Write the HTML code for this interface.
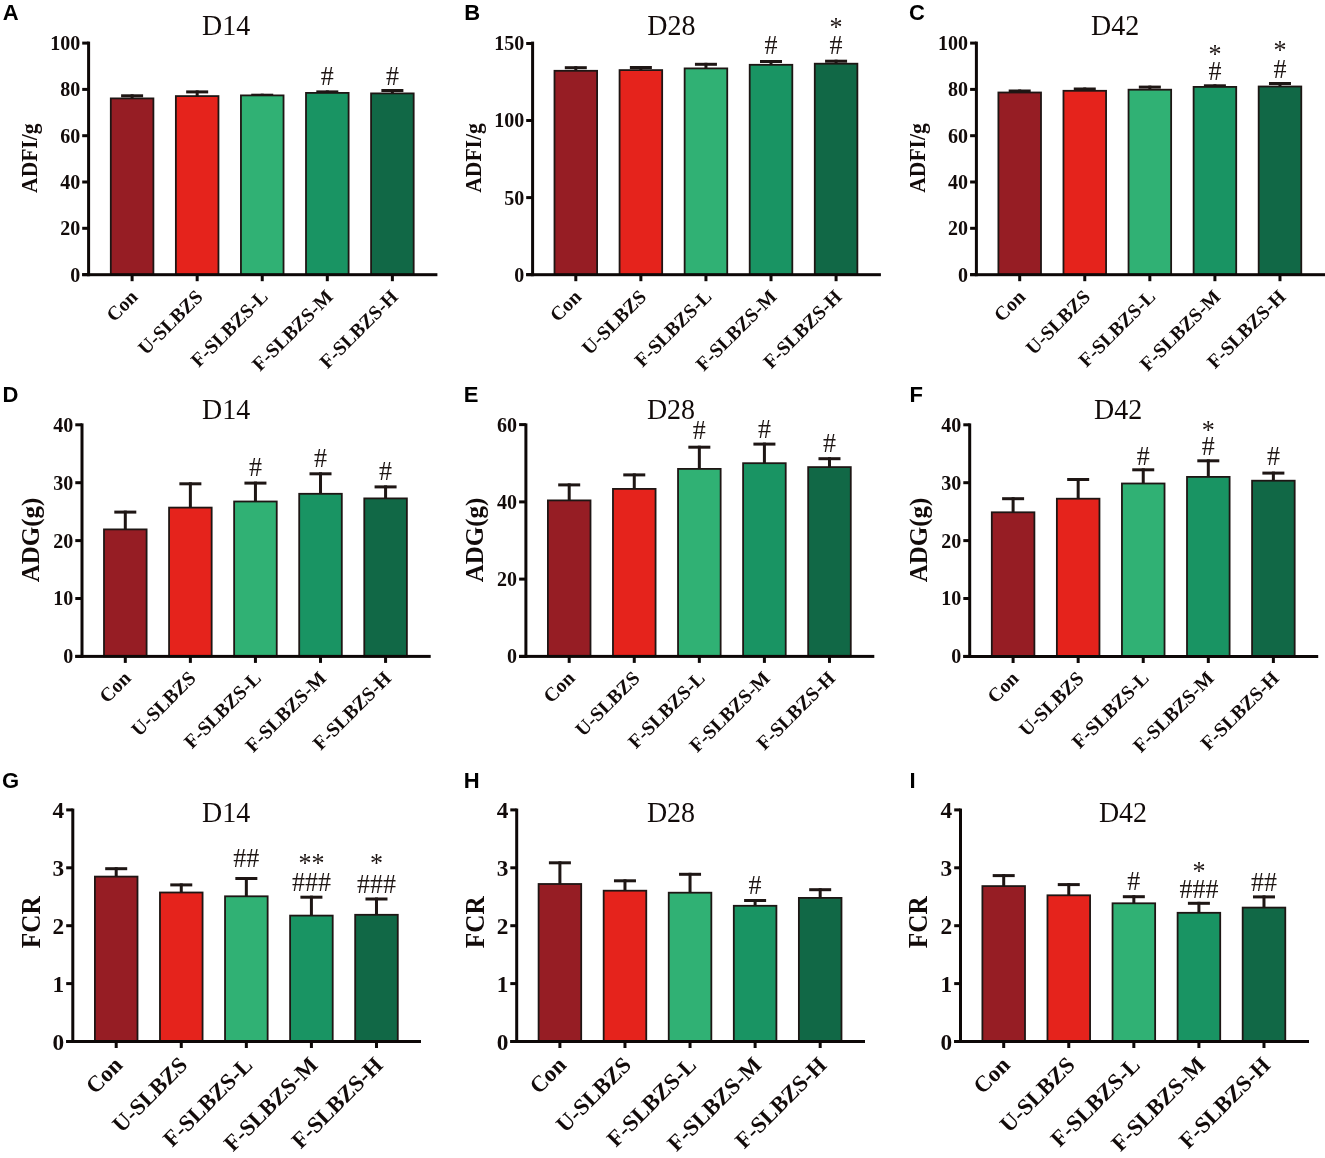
<!DOCTYPE html>
<html><head><meta charset="utf-8"><title>Figure</title>
<style>
html,body{margin:0;padding:0;background:#fff;}
svg{display:block;will-change:transform;}
.lt{font-family:"Liberation Sans",sans-serif;font-weight:bold;font-size:22px;fill:#000;}
.tt{font-family:"Liberation Serif",serif;font-size:28px;fill:#120b0a;text-anchor:middle;}
.yl{font-family:"Liberation Serif",serif;font-weight:bold;fill:#120b0a;text-anchor:middle;}
.tk{font-family:"Liberation Serif",serif;font-weight:bold;fill:#120b0a;text-anchor:end;}
.cat{font-family:"Liberation Serif",serif;font-weight:bold;fill:#120b0a;text-anchor:end;}
.an{font-family:"Liberation Serif",serif;font-size:26px;fill:#1e1614;text-anchor:middle;}
</style></head>
<body>
<svg width="1325" height="1158" viewBox="0 0 1325 1158">
<rect width="1325" height="1158" fill="#fff"/>
<text x="2.7" y="19.6" class="lt">A</text>
<text transform="translate(226.2,35) scale(1,1.05)" class="tt">D14</text>
<text transform="translate(36.8,158.2) rotate(-90) scale(0.98,1.05)" class="yl" style="font-size:22px">ADFI/g</text>
<rect x="130.6" y="94.3" width="3" height="4.2" fill="#1e1614"/>
<rect x="121.1" y="94.3" width="22" height="3" fill="#1e1614"/>
<rect x="110.8" y="98.4" width="42.6" height="176.3" fill="#961d24" stroke="#1e1614" stroke-width="1.8"/>
<rect x="130.6" y="274.7" width="3" height="6.5" fill="#0d0807"/>
<text transform="translate(138.8,298) rotate(-45)" class="cat" style="font-size:19.6px">Con</text>
<rect x="195.67" y="90.4" width="3" height="5.8" fill="#1e1614"/>
<rect x="186.17" y="90.4" width="22" height="3" fill="#1e1614"/>
<rect x="175.87" y="96.1" width="42.6" height="178.6" fill="#e5231c" stroke="#1e1614" stroke-width="1.8"/>
<rect x="195.67" y="274.7" width="3" height="6.5" fill="#0d0807"/>
<text transform="translate(203.87,298) rotate(-45)" class="cat" style="font-size:19.6px">U-SLBZS</text>
<rect x="260.74" y="93.7" width="3" height="1.8" fill="#1e1614"/>
<rect x="251.24" y="93.7" width="22" height="3" fill="#1e1614"/>
<rect x="240.94" y="95.4" width="42.6" height="179.3" fill="#30b174" stroke="#1e1614" stroke-width="1.8"/>
<rect x="260.74" y="274.7" width="3" height="6.5" fill="#0d0807"/>
<text transform="translate(268.94,298) rotate(-45)" class="cat" style="font-size:19.6px">F-SLBZS-L</text>
<rect x="325.81" y="90.4" width="3" height="2.6" fill="#1e1614"/>
<rect x="316.31" y="90.4" width="22" height="3" fill="#1e1614"/>
<rect x="306.01" y="92.9" width="42.6" height="181.8" fill="#199463" stroke="#1e1614" stroke-width="1.8"/>
<rect x="325.81" y="274.7" width="3" height="6.5" fill="#0d0807"/>
<text transform="translate(334.01,298) rotate(-45)" class="cat" style="font-size:19.6px">F-SLBZS-M</text>
<rect x="390.88" y="89" width="3" height="4.5" fill="#1e1614"/>
<rect x="381.38" y="89" width="22" height="3" fill="#1e1614"/>
<rect x="371.08" y="93.4" width="42.6" height="181.3" fill="#116846" stroke="#1e1614" stroke-width="1.8"/>
<rect x="390.88" y="274.7" width="3" height="6.5" fill="#0d0807"/>
<text transform="translate(399.08,298) rotate(-45)" class="cat" style="font-size:19.6px">F-SLBZS-H</text>
<text transform="translate(327.31,84.6) scale(1,1.06)" class="an">#</text>
<text transform="translate(392.38,84.6) scale(1,1.06)" class="an">#</text>
<rect x="87.1" y="41.6" width="3.0" height="234.6" fill="#0d0807"/>
<rect x="82.2" y="273.2" width="355.2" height="3.0" fill="#0d0807"/>
<rect x="82.2" y="41.6" width="6.4" height="3" fill="#0d0807"/>
<text x="80.2" y="50" class="tk" style="font-size:20px">100</text>
<rect x="82.2" y="87.9" width="6.4" height="3" fill="#0d0807"/>
<text x="80.2" y="96.3" class="tk" style="font-size:20px">80</text>
<rect x="82.2" y="134.2" width="6.4" height="3" fill="#0d0807"/>
<text x="80.2" y="142.6" class="tk" style="font-size:20px">60</text>
<rect x="82.2" y="180.5" width="6.4" height="3" fill="#0d0807"/>
<text x="80.2" y="188.9" class="tk" style="font-size:20px">40</text>
<rect x="82.2" y="226.8" width="6.4" height="3" fill="#0d0807"/>
<text x="80.2" y="235.2" class="tk" style="font-size:20px">20</text>
<rect x="82.2" y="273.1" width="6.4" height="3" fill="#0d0807"/>
<text x="80.2" y="281.5" class="tk" style="font-size:20px">0</text>
<text x="464.3" y="19.5" class="lt">B</text>
<text transform="translate(671.3,35.4) scale(1,1.05)" class="tt">D28</text>
<text transform="translate(480.7,158) rotate(-90) scale(0.98,1.05)" class="yl" style="font-size:22px">ADFI/g</text>
<rect x="574.3" y="66.2" width="3" height="4.7" fill="#1e1614"/>
<rect x="564.8" y="66.2" width="22" height="3" fill="#1e1614"/>
<rect x="554.5" y="70.8" width="42.6" height="203.9" fill="#961d24" stroke="#1e1614" stroke-width="1.8"/>
<rect x="574.3" y="274.7" width="3" height="6.5" fill="#0d0807"/>
<text transform="translate(582.5,298) rotate(-45)" class="cat" style="font-size:19.6px">Con</text>
<rect x="639.37" y="66" width="3" height="4.2" fill="#1e1614"/>
<rect x="629.87" y="66" width="22" height="3" fill="#1e1614"/>
<rect x="619.57" y="70.1" width="42.6" height="204.6" fill="#e5231c" stroke="#1e1614" stroke-width="1.8"/>
<rect x="639.37" y="274.7" width="3" height="6.5" fill="#0d0807"/>
<text transform="translate(647.57,298) rotate(-45)" class="cat" style="font-size:19.6px">U-SLBZS</text>
<rect x="704.44" y="62.8" width="3" height="5.7" fill="#1e1614"/>
<rect x="694.94" y="62.8" width="22" height="3" fill="#1e1614"/>
<rect x="684.64" y="68.4" width="42.6" height="206.3" fill="#30b174" stroke="#1e1614" stroke-width="1.8"/>
<rect x="704.44" y="274.7" width="3" height="6.5" fill="#0d0807"/>
<text transform="translate(712.64,298) rotate(-45)" class="cat" style="font-size:19.6px">F-SLBZS-L</text>
<rect x="769.51" y="60" width="3" height="4.9" fill="#1e1614"/>
<rect x="760.01" y="60" width="22" height="3" fill="#1e1614"/>
<rect x="749.71" y="64.8" width="42.6" height="209.9" fill="#199463" stroke="#1e1614" stroke-width="1.8"/>
<rect x="769.51" y="274.7" width="3" height="6.5" fill="#0d0807"/>
<text transform="translate(777.71,298) rotate(-45)" class="cat" style="font-size:19.6px">F-SLBZS-M</text>
<rect x="834.58" y="59.7" width="3" height="4.1" fill="#1e1614"/>
<rect x="825.08" y="59.7" width="22" height="3" fill="#1e1614"/>
<rect x="814.78" y="63.7" width="42.6" height="211" fill="#116846" stroke="#1e1614" stroke-width="1.8"/>
<rect x="834.58" y="274.7" width="3" height="6.5" fill="#0d0807"/>
<text transform="translate(842.78,298) rotate(-45)" class="cat" style="font-size:19.6px">F-SLBZS-H</text>
<text transform="translate(771.01,54.1) scale(1,1.06)" class="an">#</text>
<text transform="translate(836.08,54.1) scale(1,1.06)" class="an">#</text>
<text transform="translate(836.08,36.1) scale(1,1.06)" class="an">*</text>
<rect x="531.1" y="41.6" width="3.0" height="234.6" fill="#0d0807"/>
<rect x="526.2" y="273.2" width="354.7" height="3.0" fill="#0d0807"/>
<rect x="526.2" y="42" width="6.4" height="3" fill="#0d0807"/>
<text x="524.2" y="50.4" class="tk" style="font-size:20px">150</text>
<rect x="526.2" y="119" width="6.4" height="3" fill="#0d0807"/>
<text x="524.2" y="127.4" class="tk" style="font-size:20px">100</text>
<rect x="526.2" y="196.1" width="6.4" height="3" fill="#0d0807"/>
<text x="524.2" y="204.5" class="tk" style="font-size:20px">50</text>
<rect x="526.2" y="273.1" width="6.4" height="3" fill="#0d0807"/>
<text x="524.2" y="281.5" class="tk" style="font-size:20px">0</text>
<text x="909" y="19.6" class="lt">C</text>
<text transform="translate(1115.1,35.2) scale(1,1.05)" class="tt">D42</text>
<text transform="translate(924.6,158) rotate(-90) scale(0.98,1.05)" class="yl" style="font-size:22px">ADFI/g</text>
<rect x="1018.2" y="89.5" width="3" height="3.1" fill="#1e1614"/>
<rect x="1008.7" y="89.5" width="22" height="3" fill="#1e1614"/>
<rect x="998.4" y="92.5" width="42.6" height="182.2" fill="#961d24" stroke="#1e1614" stroke-width="1.8"/>
<rect x="1018.2" y="274.7" width="3" height="6.5" fill="#0d0807"/>
<text transform="translate(1026.4,298) rotate(-45)" class="cat" style="font-size:19.6px">Con</text>
<rect x="1083.27" y="87.5" width="3" height="3.4" fill="#1e1614"/>
<rect x="1073.77" y="87.5" width="22" height="3" fill="#1e1614"/>
<rect x="1063.47" y="90.8" width="42.6" height="183.9" fill="#e5231c" stroke="#1e1614" stroke-width="1.8"/>
<rect x="1083.27" y="274.7" width="3" height="6.5" fill="#0d0807"/>
<text transform="translate(1091.47,298) rotate(-45)" class="cat" style="font-size:19.6px">U-SLBZS</text>
<rect x="1148.34" y="85.6" width="3" height="4.2" fill="#1e1614"/>
<rect x="1138.84" y="85.6" width="22" height="3" fill="#1e1614"/>
<rect x="1128.54" y="89.7" width="42.6" height="185" fill="#30b174" stroke="#1e1614" stroke-width="1.8"/>
<rect x="1148.34" y="274.7" width="3" height="6.5" fill="#0d0807"/>
<text transform="translate(1156.54,298) rotate(-45)" class="cat" style="font-size:19.6px">F-SLBZS-L</text>
<rect x="1213.41" y="84.3" width="3" height="2.7" fill="#1e1614"/>
<rect x="1203.91" y="84.3" width="22" height="3" fill="#1e1614"/>
<rect x="1193.61" y="86.9" width="42.6" height="187.8" fill="#199463" stroke="#1e1614" stroke-width="1.8"/>
<rect x="1213.41" y="274.7" width="3" height="6.5" fill="#0d0807"/>
<text transform="translate(1221.61,298) rotate(-45)" class="cat" style="font-size:19.6px">F-SLBZS-M</text>
<rect x="1278.48" y="82" width="3" height="4.6" fill="#1e1614"/>
<rect x="1268.98" y="82" width="22" height="3" fill="#1e1614"/>
<rect x="1258.68" y="86.5" width="42.6" height="188.2" fill="#116846" stroke="#1e1614" stroke-width="1.8"/>
<rect x="1278.48" y="274.7" width="3" height="6.5" fill="#0d0807"/>
<text transform="translate(1286.68,298) rotate(-45)" class="cat" style="font-size:19.6px">F-SLBZS-H</text>
<text transform="translate(1214.91,79.7) scale(1,1.06)" class="an">#</text>
<text transform="translate(1214.91,63) scale(1,1.06)" class="an">*</text>
<text transform="translate(1279.98,78.2) scale(1,1.06)" class="an">#</text>
<text transform="translate(1279.98,58.7) scale(1,1.06)" class="an">*</text>
<rect x="974.9" y="41.6" width="3.0" height="234.6" fill="#0d0807"/>
<rect x="970.1" y="273.2" width="355.9" height="3.0" fill="#0d0807"/>
<rect x="970.1" y="41.6" width="6.3" height="3" fill="#0d0807"/>
<text x="968.1" y="50" class="tk" style="font-size:20px">100</text>
<rect x="970.1" y="87.9" width="6.3" height="3" fill="#0d0807"/>
<text x="968.1" y="96.3" class="tk" style="font-size:20px">80</text>
<rect x="970.1" y="134.2" width="6.3" height="3" fill="#0d0807"/>
<text x="968.1" y="142.6" class="tk" style="font-size:20px">60</text>
<rect x="970.1" y="180.5" width="6.3" height="3" fill="#0d0807"/>
<text x="968.1" y="188.9" class="tk" style="font-size:20px">40</text>
<rect x="970.1" y="226.8" width="6.3" height="3" fill="#0d0807"/>
<text x="968.1" y="235.2" class="tk" style="font-size:20px">20</text>
<rect x="970.1" y="273.1" width="6.3" height="3" fill="#0d0807"/>
<text x="968.1" y="281.5" class="tk" style="font-size:20px">0</text>
<text x="2.4" y="401.7" class="lt">D</text>
<text transform="translate(226.2,418.8) scale(1,1.05)" class="tt">D14</text>
<text transform="translate(39,539.9) rotate(-90) scale(1.0,1.04)" class="yl" style="font-size:25px">ADG(g)</text>
<rect x="123.8" y="510.6" width="3" height="18.9" fill="#1e1614"/>
<rect x="114.3" y="510.6" width="22" height="3" fill="#1e1614"/>
<rect x="104" y="529.4" width="42.6" height="127" fill="#961d24" stroke="#1e1614" stroke-width="1.8"/>
<rect x="123.8" y="656.4" width="3" height="6.5" fill="#0d0807"/>
<text transform="translate(132,679.4) rotate(-45)" class="cat" style="font-size:19.6px">Con</text>
<rect x="188.87" y="482.3" width="3" height="25.4" fill="#1e1614"/>
<rect x="179.37" y="482.3" width="22" height="3" fill="#1e1614"/>
<rect x="169.07" y="507.6" width="42.6" height="148.8" fill="#e5231c" stroke="#1e1614" stroke-width="1.8"/>
<rect x="188.87" y="656.4" width="3" height="6.5" fill="#0d0807"/>
<text transform="translate(197.07,679.4) rotate(-45)" class="cat" style="font-size:19.6px">U-SLBZS</text>
<rect x="253.94" y="481.6" width="3" height="20" fill="#1e1614"/>
<rect x="244.44" y="481.6" width="22" height="3" fill="#1e1614"/>
<rect x="234.14" y="501.5" width="42.6" height="154.9" fill="#30b174" stroke="#1e1614" stroke-width="1.8"/>
<rect x="253.94" y="656.4" width="3" height="6.5" fill="#0d0807"/>
<text transform="translate(262.14,679.4) rotate(-45)" class="cat" style="font-size:19.6px">F-SLBZS-L</text>
<rect x="319.01" y="472.3" width="3" height="21.6" fill="#1e1614"/>
<rect x="309.51" y="472.3" width="22" height="3" fill="#1e1614"/>
<rect x="299.21" y="493.8" width="42.6" height="162.6" fill="#199463" stroke="#1e1614" stroke-width="1.8"/>
<rect x="319.01" y="656.4" width="3" height="6.5" fill="#0d0807"/>
<text transform="translate(327.21,679.4) rotate(-45)" class="cat" style="font-size:19.6px">F-SLBZS-M</text>
<rect x="384.08" y="485.4" width="3" height="13.1" fill="#1e1614"/>
<rect x="374.58" y="485.4" width="22" height="3" fill="#1e1614"/>
<rect x="364.28" y="498.4" width="42.6" height="158" fill="#116846" stroke="#1e1614" stroke-width="1.8"/>
<rect x="384.08" y="656.4" width="3" height="6.5" fill="#0d0807"/>
<text transform="translate(392.28,679.4) rotate(-45)" class="cat" style="font-size:19.6px">F-SLBZS-H</text>
<text transform="translate(255.44,475.6) scale(1,1.06)" class="an">#</text>
<text transform="translate(320.51,466.7) scale(1,1.06)" class="an">#</text>
<text transform="translate(385.58,479.5) scale(1,1.06)" class="an">#</text>
<rect x="80.5" y="423.4" width="3.0" height="234.5" fill="#0d0807"/>
<rect x="75.3" y="654.9" width="355.4" height="3.0" fill="#0d0807"/>
<rect x="75.3" y="423.3" width="6.7" height="3" fill="#0d0807"/>
<text x="73.3" y="431.7" class="tk" style="font-size:20px">40</text>
<rect x="75.3" y="481.2" width="6.7" height="3" fill="#0d0807"/>
<text x="73.3" y="489.6" class="tk" style="font-size:20px">30</text>
<rect x="75.3" y="539.1" width="6.7" height="3" fill="#0d0807"/>
<text x="73.3" y="547.5" class="tk" style="font-size:20px">20</text>
<rect x="75.3" y="597" width="6.7" height="3" fill="#0d0807"/>
<text x="73.3" y="605.4" class="tk" style="font-size:20px">10</text>
<rect x="75.3" y="654.9" width="6.7" height="3" fill="#0d0807"/>
<text x="73.3" y="663.3" class="tk" style="font-size:20px">0</text>
<text x="463.7" y="401.7" class="lt">E</text>
<text transform="translate(671,418.8) scale(1,1.05)" class="tt">D28</text>
<text transform="translate(482.6,539.9) rotate(-90) scale(1.0,1.04)" class="yl" style="font-size:25px">ADG(g)</text>
<rect x="567.7" y="483.4" width="3" height="17.1" fill="#1e1614"/>
<rect x="558.2" y="483.4" width="22" height="3" fill="#1e1614"/>
<rect x="547.9" y="500.4" width="42.6" height="156" fill="#961d24" stroke="#1e1614" stroke-width="1.8"/>
<rect x="567.7" y="656.4" width="3" height="6.5" fill="#0d0807"/>
<text transform="translate(575.9,679.4) rotate(-45)" class="cat" style="font-size:19.6px">Con</text>
<rect x="632.77" y="473.4" width="3" height="15.6" fill="#1e1614"/>
<rect x="623.27" y="473.4" width="22" height="3" fill="#1e1614"/>
<rect x="612.97" y="488.9" width="42.6" height="167.5" fill="#e5231c" stroke="#1e1614" stroke-width="1.8"/>
<rect x="632.77" y="656.4" width="3" height="6.5" fill="#0d0807"/>
<text transform="translate(640.97,679.4) rotate(-45)" class="cat" style="font-size:19.6px">U-SLBZS</text>
<rect x="697.84" y="445.7" width="3" height="23.3" fill="#1e1614"/>
<rect x="688.34" y="445.7" width="22" height="3" fill="#1e1614"/>
<rect x="678.04" y="468.9" width="42.6" height="187.5" fill="#30b174" stroke="#1e1614" stroke-width="1.8"/>
<rect x="697.84" y="656.4" width="3" height="6.5" fill="#0d0807"/>
<text transform="translate(706.04,679.4) rotate(-45)" class="cat" style="font-size:19.6px">F-SLBZS-L</text>
<rect x="762.91" y="442.6" width="3" height="20.7" fill="#1e1614"/>
<rect x="753.41" y="442.6" width="22" height="3" fill="#1e1614"/>
<rect x="743.11" y="463.2" width="42.6" height="193.2" fill="#199463" stroke="#1e1614" stroke-width="1.8"/>
<rect x="762.91" y="656.4" width="3" height="6.5" fill="#0d0807"/>
<text transform="translate(771.11,679.4) rotate(-45)" class="cat" style="font-size:19.6px">F-SLBZS-M</text>
<rect x="827.98" y="457.2" width="3" height="10" fill="#1e1614"/>
<rect x="818.48" y="457.2" width="22" height="3" fill="#1e1614"/>
<rect x="808.18" y="467.1" width="42.6" height="189.3" fill="#116846" stroke="#1e1614" stroke-width="1.8"/>
<rect x="827.98" y="656.4" width="3" height="6.5" fill="#0d0807"/>
<text transform="translate(836.18,679.4) rotate(-45)" class="cat" style="font-size:19.6px">F-SLBZS-H</text>
<text transform="translate(699.34,438.9) scale(1,1.06)" class="an">#</text>
<text transform="translate(764.41,437.7) scale(1,1.06)" class="an">#</text>
<text transform="translate(829.48,451.8) scale(1,1.06)" class="an">#</text>
<rect x="524.4" y="423.4" width="3.0" height="234.5" fill="#0d0807"/>
<rect x="519.1" y="654.9" width="355.2" height="3.0" fill="#0d0807"/>
<rect x="519.1" y="423.1" width="6.8" height="3" fill="#0d0807"/>
<text x="517.1" y="431.5" class="tk" style="font-size:20px">60</text>
<rect x="519.1" y="500.4" width="6.8" height="3" fill="#0d0807"/>
<text x="517.1" y="508.8" class="tk" style="font-size:20px">40</text>
<rect x="519.1" y="577.6" width="6.8" height="3" fill="#0d0807"/>
<text x="517.1" y="586" class="tk" style="font-size:20px">20</text>
<rect x="519.1" y="654.9" width="6.8" height="3" fill="#0d0807"/>
<text x="517.1" y="663.3" class="tk" style="font-size:20px">0</text>
<text x="909.4" y="401.7" class="lt">F</text>
<text transform="translate(1118.2,418.8) scale(1,1.05)" class="tt">D42</text>
<text transform="translate(926.9,539.9) rotate(-90) scale(1.0,1.04)" class="yl" style="font-size:25px">ADG(g)</text>
<rect x="1011.6" y="497.2" width="3" height="15.2" fill="#1e1614"/>
<rect x="1002.1" y="497.2" width="22" height="3" fill="#1e1614"/>
<rect x="991.8" y="512.3" width="42.6" height="144.2" fill="#961d24" stroke="#1e1614" stroke-width="1.8"/>
<rect x="1011.6" y="656.5" width="3" height="6.5" fill="#0d0807"/>
<text transform="translate(1019.8,679.5) rotate(-45)" class="cat" style="font-size:19.6px">Con</text>
<rect x="1076.67" y="478" width="3" height="20.8" fill="#1e1614"/>
<rect x="1067.17" y="478" width="22" height="3" fill="#1e1614"/>
<rect x="1056.87" y="498.7" width="42.6" height="157.8" fill="#e5231c" stroke="#1e1614" stroke-width="1.8"/>
<rect x="1076.67" y="656.5" width="3" height="6.5" fill="#0d0807"/>
<text transform="translate(1084.87,679.5) rotate(-45)" class="cat" style="font-size:19.6px">U-SLBZS</text>
<rect x="1141.74" y="468.3" width="3" height="15.3" fill="#1e1614"/>
<rect x="1132.24" y="468.3" width="22" height="3" fill="#1e1614"/>
<rect x="1121.94" y="483.5" width="42.6" height="173" fill="#30b174" stroke="#1e1614" stroke-width="1.8"/>
<rect x="1141.74" y="656.5" width="3" height="6.5" fill="#0d0807"/>
<text transform="translate(1149.94,679.5) rotate(-45)" class="cat" style="font-size:19.6px">F-SLBZS-L</text>
<rect x="1206.81" y="459.3" width="3" height="17.7" fill="#1e1614"/>
<rect x="1197.31" y="459.3" width="22" height="3" fill="#1e1614"/>
<rect x="1187.01" y="476.9" width="42.6" height="179.6" fill="#199463" stroke="#1e1614" stroke-width="1.8"/>
<rect x="1206.81" y="656.5" width="3" height="6.5" fill="#0d0807"/>
<text transform="translate(1215.01,679.5) rotate(-45)" class="cat" style="font-size:19.6px">F-SLBZS-M</text>
<rect x="1271.88" y="471.6" width="3" height="9.2" fill="#1e1614"/>
<rect x="1262.38" y="471.6" width="22" height="3" fill="#1e1614"/>
<rect x="1252.08" y="480.7" width="42.6" height="175.8" fill="#116846" stroke="#1e1614" stroke-width="1.8"/>
<rect x="1271.88" y="656.5" width="3" height="6.5" fill="#0d0807"/>
<text transform="translate(1280.08,679.5) rotate(-45)" class="cat" style="font-size:19.6px">F-SLBZS-H</text>
<text transform="translate(1143.24,464.9) scale(1,1.06)" class="an">#</text>
<text transform="translate(1208.31,455.1) scale(1,1.06)" class="an">#</text>
<text transform="translate(1208.31,439.1) scale(1,1.06)" class="an">*</text>
<text transform="translate(1273.38,465.4) scale(1,1.06)" class="an">#</text>
<rect x="968.2" y="423.4" width="3.0" height="234.6" fill="#0d0807"/>
<rect x="963.3" y="655" width="354.9" height="3.0" fill="#0d0807"/>
<rect x="963.3" y="423.3" width="6.4" height="3" fill="#0d0807"/>
<text x="961.3" y="431.7" class="tk" style="font-size:20px">40</text>
<rect x="963.3" y="481.2" width="6.4" height="3" fill="#0d0807"/>
<text x="961.3" y="489.6" class="tk" style="font-size:20px">30</text>
<rect x="963.3" y="539.1" width="6.4" height="3" fill="#0d0807"/>
<text x="961.3" y="547.5" class="tk" style="font-size:20px">20</text>
<rect x="963.3" y="597" width="6.4" height="3" fill="#0d0807"/>
<text x="961.3" y="605.4" class="tk" style="font-size:20px">10</text>
<rect x="963.3" y="654.9" width="6.4" height="3" fill="#0d0807"/>
<text x="961.3" y="663.3" class="tk" style="font-size:20px">0</text>
<text x="2" y="788.3" class="lt">G</text>
<text transform="translate(226.2,822.3) scale(1,1.05)" class="tt">D14</text>
<text transform="translate(39.8,922.3) rotate(-90) scale(0.97,1.08)" class="yl" style="font-size:26px">FCR</text>
<rect x="114.7" y="867.2" width="3" height="9.5" fill="#1e1614"/>
<rect x="105.2" y="867.2" width="22" height="3" fill="#1e1614"/>
<rect x="94.9" y="876.6" width="42.6" height="164.9" fill="#961d24" stroke="#1e1614" stroke-width="1.8"/>
<rect x="114.7" y="1041.5" width="3" height="6.5" fill="#0d0807"/>
<text transform="translate(123.7,1066.4) rotate(-45)" class="cat" style="font-size:22.8px">Con</text>
<rect x="179.77" y="883.4" width="3" height="9.2" fill="#1e1614"/>
<rect x="170.27" y="883.4" width="22" height="3" fill="#1e1614"/>
<rect x="159.97" y="892.5" width="42.6" height="149" fill="#e5231c" stroke="#1e1614" stroke-width="1.8"/>
<rect x="179.77" y="1041.5" width="3" height="6.5" fill="#0d0807"/>
<text transform="translate(188.77,1066.4) rotate(-45)" class="cat" style="font-size:22.8px">U-SLBZS</text>
<rect x="244.84" y="877" width="3" height="19.4" fill="#1e1614"/>
<rect x="235.34" y="877" width="22" height="3" fill="#1e1614"/>
<rect x="225.04" y="896.3" width="42.6" height="145.2" fill="#30b174" stroke="#1e1614" stroke-width="1.8"/>
<rect x="244.84" y="1041.5" width="3" height="6.5" fill="#0d0807"/>
<text transform="translate(253.84,1066.4) rotate(-45)" class="cat" style="font-size:22.8px">F-SLBZS-L</text>
<rect x="309.91" y="895.7" width="3" height="20" fill="#1e1614"/>
<rect x="300.41" y="895.7" width="22" height="3" fill="#1e1614"/>
<rect x="290.11" y="915.6" width="42.6" height="125.9" fill="#199463" stroke="#1e1614" stroke-width="1.8"/>
<rect x="309.91" y="1041.5" width="3" height="6.5" fill="#0d0807"/>
<text transform="translate(318.91,1066.4) rotate(-45)" class="cat" style="font-size:22.8px">F-SLBZS-M</text>
<rect x="374.98" y="897.5" width="3" height="17.4" fill="#1e1614"/>
<rect x="365.48" y="897.5" width="22" height="3" fill="#1e1614"/>
<rect x="355.18" y="914.8" width="42.6" height="126.7" fill="#116846" stroke="#1e1614" stroke-width="1.8"/>
<rect x="374.98" y="1041.5" width="3" height="6.5" fill="#0d0807"/>
<text transform="translate(383.98,1066.4) rotate(-45)" class="cat" style="font-size:22.8px">F-SLBZS-H</text>
<text transform="translate(246.34,866.9) scale(1,1.06)" class="an">##</text>
<text transform="translate(311.41,871.5) scale(1,1.06)" class="an">**</text>
<text transform="translate(311.41,890.5) scale(1,1.06)" class="an">###</text>
<text transform="translate(376.48,872.2) scale(1,1.06)" class="an">*</text>
<text transform="translate(376.48,892.7) scale(1,1.06)" class="an">###</text>
<rect x="71.3" y="808.6" width="3.0" height="234.4" fill="#0d0807"/>
<rect x="66.2" y="1040" width="354.8" height="3.0" fill="#0d0807"/>
<rect x="66.2" y="808.4" width="6.6" height="3" fill="#0d0807"/>
<text x="64.2" y="817.94" class="tk" style="font-size:23.3px">4</text>
<rect x="66.2" y="866.3" width="6.6" height="3" fill="#0d0807"/>
<text x="64.2" y="875.84" class="tk" style="font-size:23.3px">3</text>
<rect x="66.2" y="924.2" width="6.6" height="3" fill="#0d0807"/>
<text x="64.2" y="933.74" class="tk" style="font-size:23.3px">2</text>
<rect x="66.2" y="982.1" width="6.6" height="3" fill="#0d0807"/>
<text x="64.2" y="991.64" class="tk" style="font-size:23.3px">1</text>
<rect x="66.2" y="1040" width="6.6" height="3" fill="#0d0807"/>
<text x="64.2" y="1049.54" class="tk" style="font-size:23.3px">0</text>
<text x="463.7" y="788.3" class="lt">H</text>
<text transform="translate(671,822.3) scale(1,1.05)" class="tt">D28</text>
<text transform="translate(483.7,922.3) rotate(-90) scale(0.97,1.08)" class="yl" style="font-size:26px">FCR</text>
<rect x="558.4" y="861.3" width="3" height="22.8" fill="#1e1614"/>
<rect x="548.9" y="861.3" width="22" height="3" fill="#1e1614"/>
<rect x="538.6" y="884" width="42.6" height="157.5" fill="#961d24" stroke="#1e1614" stroke-width="1.8"/>
<rect x="558.4" y="1041.5" width="3" height="6.5" fill="#0d0807"/>
<text transform="translate(567.4,1066.4) rotate(-45)" class="cat" style="font-size:22.8px">Con</text>
<rect x="623.47" y="879.3" width="3" height="11.5" fill="#1e1614"/>
<rect x="613.97" y="879.3" width="22" height="3" fill="#1e1614"/>
<rect x="603.67" y="890.7" width="42.6" height="150.8" fill="#e5231c" stroke="#1e1614" stroke-width="1.8"/>
<rect x="623.47" y="1041.5" width="3" height="6.5" fill="#0d0807"/>
<text transform="translate(632.47,1066.4) rotate(-45)" class="cat" style="font-size:22.8px">U-SLBZS</text>
<rect x="688.54" y="872.8" width="3" height="20" fill="#1e1614"/>
<rect x="679.04" y="872.8" width="22" height="3" fill="#1e1614"/>
<rect x="668.74" y="892.7" width="42.6" height="148.8" fill="#30b174" stroke="#1e1614" stroke-width="1.8"/>
<rect x="688.54" y="1041.5" width="3" height="6.5" fill="#0d0807"/>
<text transform="translate(697.54,1066.4) rotate(-45)" class="cat" style="font-size:22.8px">F-SLBZS-L</text>
<rect x="753.61" y="899" width="3" height="6.9" fill="#1e1614"/>
<rect x="744.11" y="899" width="22" height="3" fill="#1e1614"/>
<rect x="733.81" y="905.8" width="42.6" height="135.7" fill="#199463" stroke="#1e1614" stroke-width="1.8"/>
<rect x="753.61" y="1041.5" width="3" height="6.5" fill="#0d0807"/>
<text transform="translate(762.61,1066.4) rotate(-45)" class="cat" style="font-size:22.8px">F-SLBZS-M</text>
<rect x="818.68" y="888.2" width="3" height="9.8" fill="#1e1614"/>
<rect x="809.18" y="888.2" width="22" height="3" fill="#1e1614"/>
<rect x="798.88" y="897.9" width="42.6" height="143.6" fill="#116846" stroke="#1e1614" stroke-width="1.8"/>
<rect x="818.68" y="1041.5" width="3" height="6.5" fill="#0d0807"/>
<text transform="translate(827.68,1066.4) rotate(-45)" class="cat" style="font-size:22.8px">F-SLBZS-H</text>
<text transform="translate(755.11,894.1) scale(1,1.06)" class="an">#</text>
<rect x="515.2" y="808.6" width="3.0" height="234.4" fill="#0d0807"/>
<rect x="510.3" y="1040" width="354.7" height="3.0" fill="#0d0807"/>
<rect x="510.3" y="808.4" width="6.4" height="3" fill="#0d0807"/>
<text x="508.3" y="817.94" class="tk" style="font-size:23.3px">4</text>
<rect x="510.3" y="866.3" width="6.4" height="3" fill="#0d0807"/>
<text x="508.3" y="875.84" class="tk" style="font-size:23.3px">3</text>
<rect x="510.3" y="924.2" width="6.4" height="3" fill="#0d0807"/>
<text x="508.3" y="933.74" class="tk" style="font-size:23.3px">2</text>
<rect x="510.3" y="982.1" width="6.4" height="3" fill="#0d0807"/>
<text x="508.3" y="991.64" class="tk" style="font-size:23.3px">1</text>
<rect x="510.3" y="1040" width="6.4" height="3" fill="#0d0807"/>
<text x="508.3" y="1049.54" class="tk" style="font-size:23.3px">0</text>
<text x="909.4" y="788.3" class="lt">I</text>
<text transform="translate(1123,822.3) scale(1,1.05)" class="tt">D42</text>
<text transform="translate(927.1,922.3) rotate(-90) scale(0.97,1.08)" class="yl" style="font-size:26px">FCR</text>
<rect x="1002.2" y="874.1" width="3" height="12.1" fill="#1e1614"/>
<rect x="992.7" y="874.1" width="22" height="3" fill="#1e1614"/>
<rect x="982.4" y="886.1" width="42.6" height="155.4" fill="#961d24" stroke="#1e1614" stroke-width="1.8"/>
<rect x="1002.2" y="1041.5" width="3" height="6.5" fill="#0d0807"/>
<text transform="translate(1011.2,1066.4) rotate(-45)" class="cat" style="font-size:22.8px">Con</text>
<rect x="1067.27" y="883.1" width="3" height="12.3" fill="#1e1614"/>
<rect x="1057.77" y="883.1" width="22" height="3" fill="#1e1614"/>
<rect x="1047.47" y="895.3" width="42.6" height="146.2" fill="#e5231c" stroke="#1e1614" stroke-width="1.8"/>
<rect x="1067.27" y="1041.5" width="3" height="6.5" fill="#0d0807"/>
<text transform="translate(1076.27,1066.4) rotate(-45)" class="cat" style="font-size:22.8px">U-SLBZS</text>
<rect x="1132.34" y="895.2" width="3" height="8.2" fill="#1e1614"/>
<rect x="1122.84" y="895.2" width="22" height="3" fill="#1e1614"/>
<rect x="1112.54" y="903.3" width="42.6" height="138.2" fill="#30b174" stroke="#1e1614" stroke-width="1.8"/>
<rect x="1132.34" y="1041.5" width="3" height="6.5" fill="#0d0807"/>
<text transform="translate(1141.34,1066.4) rotate(-45)" class="cat" style="font-size:22.8px">F-SLBZS-L</text>
<rect x="1197.41" y="901.8" width="3" height="11.1" fill="#1e1614"/>
<rect x="1187.91" y="901.8" width="22" height="3" fill="#1e1614"/>
<rect x="1177.61" y="912.8" width="42.6" height="128.7" fill="#199463" stroke="#1e1614" stroke-width="1.8"/>
<rect x="1197.41" y="1041.5" width="3" height="6.5" fill="#0d0807"/>
<text transform="translate(1206.41,1066.4) rotate(-45)" class="cat" style="font-size:22.8px">F-SLBZS-M</text>
<rect x="1262.48" y="895.4" width="3" height="12.3" fill="#1e1614"/>
<rect x="1252.98" y="895.4" width="22" height="3" fill="#1e1614"/>
<rect x="1242.68" y="907.6" width="42.6" height="133.9" fill="#116846" stroke="#1e1614" stroke-width="1.8"/>
<rect x="1262.48" y="1041.5" width="3" height="6.5" fill="#0d0807"/>
<text transform="translate(1271.48,1066.4) rotate(-45)" class="cat" style="font-size:22.8px">F-SLBZS-H</text>
<text transform="translate(1133.84,889.7) scale(1,1.06)" class="an">#</text>
<text transform="translate(1198.91,880.2) scale(1,1.06)" class="an">*</text>
<text transform="translate(1198.91,898.2) scale(1,1.06)" class="an">###</text>
<text transform="translate(1263.98,891) scale(1,1.06)" class="an">##</text>
<rect x="959" y="808.6" width="3.0" height="234.4" fill="#0d0807"/>
<rect x="954.2" y="1040" width="354.8" height="3.0" fill="#0d0807"/>
<rect x="954.2" y="808.4" width="6.3" height="3" fill="#0d0807"/>
<text x="952.2" y="817.94" class="tk" style="font-size:23.3px">4</text>
<rect x="954.2" y="866.3" width="6.3" height="3" fill="#0d0807"/>
<text x="952.2" y="875.84" class="tk" style="font-size:23.3px">3</text>
<rect x="954.2" y="924.2" width="6.3" height="3" fill="#0d0807"/>
<text x="952.2" y="933.74" class="tk" style="font-size:23.3px">2</text>
<rect x="954.2" y="982.1" width="6.3" height="3" fill="#0d0807"/>
<text x="952.2" y="991.64" class="tk" style="font-size:23.3px">1</text>
<rect x="954.2" y="1040" width="6.3" height="3" fill="#0d0807"/>
<text x="952.2" y="1049.54" class="tk" style="font-size:23.3px">0</text>
</svg>
</body></html>
